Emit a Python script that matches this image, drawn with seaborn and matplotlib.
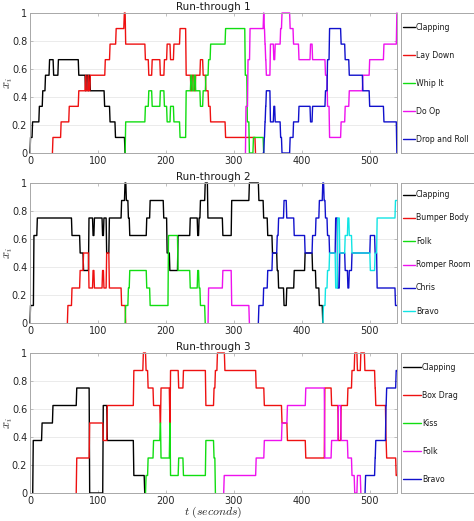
import pandas as pd
import matplotlib
matplotlib.use('Agg')
from matplotlib import pyplot as plt
import seaborn as sns

sns.set_style('ticks')
plt.rcParams['font.family'] = ['DejaVu Sans']
plt.rcParams['mathtext.fontset'] = 'cm'

T_END = 540
# 每条曲线: (开始时间, 级别), 级别 0 表示结束 / 掉到零
# run-through 1, levels in ninths
run1_den = 9
run1_names = ['Clapping', 'Lay Down', 'Whip It', 'Do Op', 'Drop and Roll']
clap1 = [(0, 1), (3, 2), (13, 3), (18, 4), (22, 5), (28, 6), (34, 5), (41, 6), (71, 5), (81, 4), (82, 5),
         (85, 4), (86, 5), (88, 4), (109, 3), (117, 2), (125, 1), (139, 0)]
lay1 = [(33, 1), (45, 2), (57, 3), (71, 4), (81, 5), (82, 4), (85, 5), (86, 4), (88, 5), (110, 6), (117, 7),
        (126, 8), (138, 9), (140, 7), (169, 6), (174, 5), (179, 6), (191, 5), (197, 6), (201, 7), (206, 6),
        (211, 7), (220, 8), (229, 5), (236, 4), (238, 5), (241, 4), (243, 5), (250, 6), (254, 5), (258, 4),
        (262, 3), (265, 2), (287, 1), (331, 0)]
whip1 = [(140, 2), (169, 3), (174, 4), (179, 3), (191, 4), (197, 3), (201, 2), (206, 3), (211, 2), (220, 1),
         (229, 4), (236, 5), (238, 4), (241, 5), (243, 4), (250, 3), (254, 4), (258, 5), (262, 6), (265, 7),
         (287, 8), (316, 5), (319, 2), (322, 0), (328, 1), (343, 0)]
doop1 = [(317, 3), (320, 6), (323, 8), (343, 9), (344, 8), (345, 7), (346, 6), (347, 5), (353, 7), (358, 6),
         (360, 7), (368, 8), (370, 9), (382, 8), (387, 7), (395, 6), (412, 7), (415, 6), (434, 5), (437, 3),
         (440, 1), (457, 2), (463, 3), (469, 4), (489, 5), (499, 6), (520, 7), (539, 9)]
drop1 = [(343, 0), (344, 1), (345, 2), (346, 3), (347, 4), (353, 2), (358, 3), (360, 2), (368, 1), (370, 0),
         (382, 1), (387, 2), (395, 3), (412, 2), (415, 3), (434, 4), (437, 6), (440, 8), (457, 7), (463, 6),
         (469, 5), (489, 4), (499, 3), (520, 2), (539, 0)]

# run-through 2, levels in eighths
run2_den = 8
run2_names = ['Clapping', 'Bumper Body', 'Folk', 'Romper Room', 'Chris', 'Bravo']
clap2 = [(0, 1), (5, 5), (10, 6), (61, 5), (73, 4), (78, 3), (86, 6), (92, 5), (94, 6), (106, 5), (108, 6),
         (112, 4), (116, 6), (134, 7), (139, 8), (141, 7), (144, 6), (146, 5), (171, 6), (176, 7), (196, 6),
         (201, 4), (205, 3), (217, 5), (235, 6), (246, 5), (248, 6), (250, 7), (257, 8), (261, 6), (283, 5),
         (296, 7), (322, 8), (336, 7), (343, 6), (349, 5), (356, 4), (363, 3), (365, 2), (373, 1), (377, 2),
         (388, 3), (404, 4), (415, 3), (420, 2), (425, 1), (430, 0)]
bumper2 = [(55, 1), (61, 2), (73, 3), (78, 4), (86, 2), (92, 3), (94, 2), (106, 3), (108, 2), (112, 4),
           (116, 2), (134, 1), (140, 0)]
folk2 = [(140, 1), (144, 2), (146, 3), (171, 2), (176, 1), (203, 5), (217, 3), (235, 2), (246, 3), (248, 2),
         (250, 1), (257, 0)]
romper2 = [(262, 2), (283, 3), (296, 1), (322, 0)]
chris2 = [(336, 1), (343, 2), (349, 3), (356, 4), (363, 5), (365, 6), (373, 7), (377, 6), (388, 5), (404, 4),
          (415, 5), (420, 6), (425, 7), (430, 8), (432, 7), (434, 6), (437, 5), (440, 4), (449, 6), (452, 2),
          (455, 4), (463, 3), (467, 2), (469, 3), (473, 4), (500, 5), (507, 4), (510, 2), (537, 1)]
bravo2 = [(431, 1), (434, 2), (437, 3), (440, 4), (449, 2), (452, 6), (455, 4), (463, 5), (467, 6), (469, 5),
          (473, 4), (500, 3), (507, 4), (510, 6), (537, 7)]

# run-through 3, levels in eighths
run3_den = 8
run3_names = ['Clapping', 'Box Drag', 'Kiss', 'Folk', 'Bravo']
clap3 = [(4, 3), (17, 4), (33, 5), (68, 6), (87, 0), (107, 5), (113, 3), (152, 1), (168, 0)]
box3 = [(68, 2), (87, 4), (107, 3), (113, 5), (152, 7), (166, 8), (170, 7), (173, 6), (181, 5), (191, 4),
        (192, 6), (205, 4), (206, 7), (218, 6), (225, 7), (258, 5), (270, 6), (272, 7), (275, 8), (286, 7),
        (332, 6), (344, 5), (370, 4), (378, 3), (405, 2), (433, 6), (443, 5), (453, 3), (457, 5), (467, 6),
        (473, 7), (477, 8), (481, 7), (486, 8), (492, 7), (507, 6), (508, 5), (523, 3), (524, 2), (538, 1)]
kiss3 = [(170, 1), (173, 2), (181, 3), (191, 4), (192, 2), (205, 4), (206, 1), (218, 2), (225, 1), (258, 3),
         (270, 2), (272, 0)]
folk3 = [(285, 1), (332, 2), (344, 3), (370, 4), (378, 5), (405, 6), (433, 2), (443, 3), (453, 5), (457, 3),
         (467, 2), (473, 1), (477, 0), (481, 1), (486, 0)]
bravo3 = [(493, 1), (507, 2), (508, 3), (523, 5), (524, 6), (538, 7)]

colors = ['#000000', '#ee1111', '#11dd11', '#ee11ee', '#1111cc', '#11e4e4']
runs = [
    ('Run-through 1', run1_den, run1_names, [clap1, lay1, whip1, doop1, drop1]),
    ('Run-through 2', run2_den, run2_names, [clap2, bumper2, folk2, romper2, chris2, bravo2]),
    ('Run-through 3', run3_den, run3_names, [clap3, box3, kiss3, folk3, bravo3]),
]
leg_line_end = [0.14, 0.14, 0.2]


def to_vertices(steps, ramp=0.8):
    ts, ys = [steps[0][0]], [0]
    prev = 0
    for t, k in steps:
        ts += [t, t + ramp]
        ys += [prev, k]
        prev = k
    if prev != 0:
        ts.append(T_END)
        ys.append(prev)
    return ts, ys


W, H = 474, 521
fig = plt.figure(figsize=(W / 100, H / 100), dpi=100)
grey = '#a8a8a8'
tops = [13, 183, 353]
ax_h = 140

for i, (title, den, names, series) in enumerate(runs):
    rows = []
    for name, steps in zip(names, series):
        ts, ys = to_vertices(steps)
        for t, y in zip(ts, ys):
            rows.append({'t': t, 'x': y / den, 'gesture': name})
    df = pd.DataFrame(rows)

    bottom = (H - tops[i] - ax_h) / H
    ax = fig.add_axes([30 / W, bottom, 367 / W, ax_h / H])
    sns.lineplot(data=df, x='t', y='x', hue='gesture', hue_order=names, palette=colors[:len(names)],
                 estimator=None, sort=False, legend=False, lw=1.0, clip_on=False, ax=ax)
    ax.set_xlim(0, T_END)
    ax.set_ylim(0, 1)
    ax.set_xticks([0, 100, 200, 300, 400, 500])
    ax.set_yticks([0, 0.2, 0.4, 0.6, 0.8, 1])
    ax.set_yticklabels(['0', '0.2', '0.4', '0.6', '0.8', '1'])
    ax.yaxis.grid(True, color='#e8e8e8', lw=0.6)
    ax.set_axisbelow(True)
    ax.tick_params(direction='in', length=2.5, width=0.5, colors=grey, labelcolor='#262626',
                   labelsize=7, top=True, right=True, pad=2)
    for s in ax.spines.values():
        s.set_color(grey)
        s.set_linewidth(0.7)
    ax.set_title(title, fontsize=7.5, pad=2.5, color='#1a1a1a')
    ax.set_ylabel(r'$x_i$', fontsize=9)
    ax.yaxis.set_label_coords(-0.042, 0.5)
    ax.set_xlabel('')
    if i == 2:
        ax.set_xlabel(r'$t\ (seconds)$', fontsize=8.5)
        ax.xaxis.set_label_coords(0.5, -0.087)

    # legend box on the right
    lax = fig.add_axes([401 / W, bottom, 100 / W, ax_h / H])
    lax.set_xlim(0, 1)
    lax.set_ylim(0, 1)
    lax.set_xticks([])
    lax.set_yticks([])
    for s in lax.spines.values():
        s.set_color(grey)
        s.set_linewidth(0.7)
    n = len(names)
    for j, name in enumerate(names):
        yy = 1 - (j + 0.5) / n
        lax.plot([0.02, leg_line_end[i]], [yy, yy], color=colors[j], lw=1.0)
        lax.text(leg_line_end[i] + 0.01, yy, name, va='center', ha='left', fontsize=5.6, color='#1a1a1a')

fig.savefig('out.png', dpi=100)
